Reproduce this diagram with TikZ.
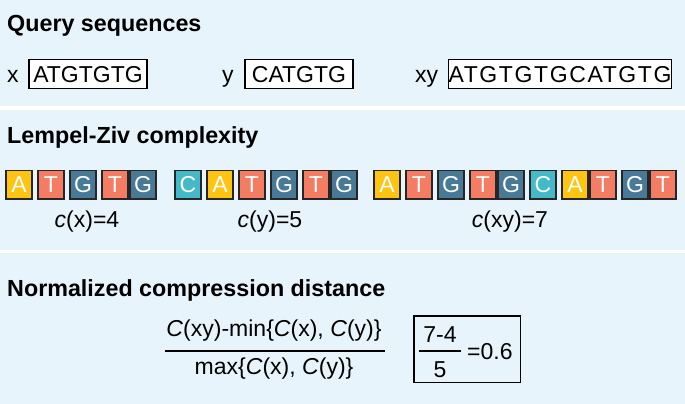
\documentclass[tikz,border=0pt]{standalone}
\usepackage{fontspec}
\setmainfont{Liberation Sans}
\usepackage{tikz}
\definecolor{panelblue}{RGB}{232,244,251}
\definecolor{colA}{RGB}{255,196,18}
\definecolor{colT}{RGB}{244,124,98}
\definecolor{colG}{RGB}{72,122,152}
\definecolor{colC}{RGB}{68,186,200}
\newcommand{\txtfont}{\fontsize{23}{27}\selectfont}
\newcommand{\ttlfont}{\fontsize{23.3}{27}\selectfont\bfseries}
\tikzset{
  seqbox/.style={draw, line width=1.5pt, fill=white, minimum height=29pt, inner xsep=0pt, inner ysep=0pt,
    text height=16.5pt, text depth=0pt, font=\txtfont},
  tile/.style={draw=black!85, line width=1.6pt, minimum width=26.4pt, minimum height=28.4pt, inner sep=0pt,
    text=white, text height=16.5pt, text depth=0pt, font=\txtfont},
  heading/.style={anchor=base west, inner sep=0pt, font=\ttlfont},
  lbl/.style={anchor=base, inner sep=0pt, font=\txtfont},
  fracline/.style={line width=1.3pt},
}

\begin{document}
\begin{tikzpicture}[x=1pt,y=-1pt]
	% panels
	\fill[white] (0,0) rectangle (685,404);
	\fill[panelblue] (0,0) rectangle (685,106);
	\fill[panelblue] (0,110) rectangle (685,250);
	\fill[panelblue] (0,253) rectangle (685,404);
	
	% query sequences
	\node[heading] (qtitle) at (7,32) {Query sequences};
	\node[lbl, anchor=base west] (xlab) at (7,82) {x};
	\node[seqbox, minimum width=118pt] (xseq) at (88,74) {ATGTGTG};
	\node[lbl, anchor=base west] (ylab) at (222,82) {y};
	\node[seqbox, minimum width=108pt] (yseq) at (299,74) {CATGTG};
	\node[lbl, anchor=base west] (xylab) at (415,82) {xy};
	\node[seqbox, minimum width=218pt] (xyseq) at (560,74) {\addfontfeatures{LetterSpace=7}ATGTGTGCATGTG};
	
	% Lempel-Ziv parsing
	\node[heading] (lztitle) at (7,143) {Lempel-Ziv complexity};
	\foreach \px/\nuc [count=\i] in {5/A,37/T,69/G,101/T,129/G}
		\node[tile, fill=col\nuc] (lzx\i) at (\px+14,184.5) {\nuc};
	\foreach \px/\nuc [count=\i] in {174/C,206/A,238/T,270/G,302/T,330/G}
		\node[tile, fill=col\nuc] (lzy\i) at (\px+14,184.5) {\nuc};
	\foreach \px/\nuc [count=\i] in {373/A,405/T,437/G,469/T,497/G,529/C,561/A,589/T,621/G,649/T}
		\node[tile, fill=col\nuc] (lzxy\i) at (\px+14,184.5) {\nuc};
	\node[lbl] (cx) at (87,227) {\textit{c}(x)=4};
	\node[lbl] (cy) at (270,227) {\textit{c}(y)=5};
	\node[lbl] (cxy) at (510,227) {\textit{c}(xy)=7};
	
	% normalized compression distance
	\node[heading] (ncdtitle) at (7,296) {Normalized compression distance};
	\node[lbl] (num) at (274,336) {\textit{C}(xy)-min\{\textit{C}(x), \textit{C}(y)\}};
	\node[lbl] (den) at (274,374) {max\{\textit{C}(x), \textit{C}(y)\}};
	\coordinate (f1) at (165,351);
	\coordinate (f2) at (385,351);
	\draw[fracline] (f1) -- (f2);
	
	\node[draw, line width=1.5pt, minimum width=106.5pt, minimum height=66.5pt] (res) at (467,349) {};
	\node[lbl] (rnum) at (440,342) {7-4};
	\node[lbl] (rden) at (440,377) {5};
	\node[lbl, anchor=base west] (rval) at (467,359) {=0.6};
	\coordinate (r1) at (419,351);
	\coordinate (r2) at (461,351);
	\draw[fracline] (r1) -- (r2);
\end{tikzpicture}
\end{document}
